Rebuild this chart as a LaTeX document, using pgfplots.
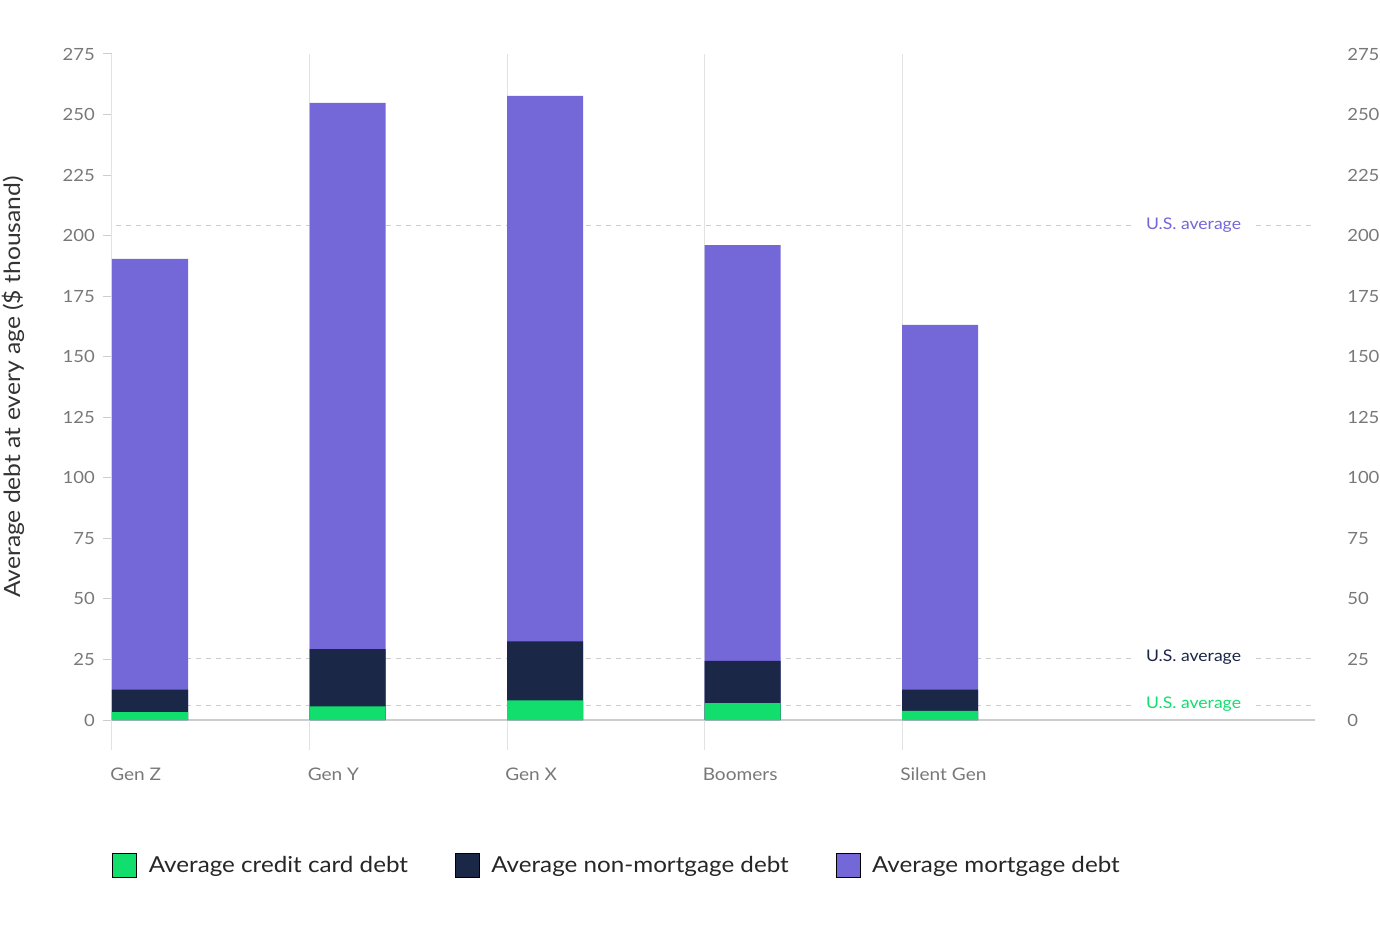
\documentclass[border=0pt]{standalone}
\usepackage{pgfplots}
\pgfplotsset{compat=1.18}
\usepackage{fontspec}
\setmainfont{Lato}[FakeStretch=1.1]
\definecolor{cpurple}{RGB}{116,103,216}
\definecolor{cnavy}{RGB}{27,39,71}
\definecolor{cgreen}{RGB}{18,222,110}
\definecolor{cgrid}{RGB}{226,226,226}
\definecolor{cdash}{RGB}{205,205,205}
\definecolor{ctick}{RGB}{120,120,120}
\begin{document}
\begin{tikzpicture}
\useasboundingbox (-84pt,-153pt) rectangle (951pt,540pt);
\begin{axis}[
  at={(0,0)}, anchor=south west,
  scale only axis, width=902.25pt, height=499.5pt,
  xmin=0, xmax=6.091, ymin=0, ymax=275,
  clip=false,
  /pgf/number format/assume math mode=true,
  axis x line*=bottom, axis y line*=left,
  x axis line style={draw=cdash, line width=1.1pt, -},
  y axis line style={draw=cgrid, line width=0.75pt, -},
  xtick={0,1,2,3,4},
  xticklabels={Gen Z, Gen Y, Gen X, Boomers, Silent Gen},
  xtick style={draw=none},
  xticklabel style={anchor=west, inner sep=0pt, yshift=-33.75pt, xshift=-1.5pt, font=\fontsize{13}{15}\selectfont, text=ctick},
  ytick={0,25,...,275},
  ytick style={draw=cdash, line width=0.75pt},
  tick align=outside,
  major tick length=6.75pt,
  yticklabel style={anchor=east, inner sep=0pt, xshift=-6pt, font=\fontsize{12.6}{15}\selectfont, text=ctick},
  ylabel={Average debt at every age (\$ thousand)},
  every axis y label/.style={at={(axis description cs:-0.0823,0.5)}, rotate=90, anchor=center, font=\fontsize{16.8}{19}\selectfont, text=black!80},
  legend columns=3,
  legend style={at={(axis cs:0,-60)}, anchor=west, draw=none, fill=none, inner sep=0pt,
    font=\fontsize{16.5}{19}\selectfont, text=black!85,
    nodes={inner sep=0pt},
    /tikz/every odd column/.append style={column sep=9pt},
    /tikz/every even column/.append style={column sep=35pt}},
  legend image code/.code={\fill[#1] (0pt,-9pt) rectangle (18pt,9pt);},
]
\addlegendimage{fill=cgreen}
\addlegendentry{Average credit card debt}
\addlegendimage{fill=cnavy}
\addlegendentry{Average non-mortgage debt}
\addlegendimage{fill=cpurple}
\addlegendentry{Average mortgage debt}

% vertical grid lines
\foreach \k in {1,2,3,4} {
  \edef\tmp{\noexpand\draw[cgrid, line width=0.75pt] (axis cs:\k,-12.4) -- (axis cs:\k,275);}
  \tmp
}
\draw[cgrid, line width=0.75pt] (axis cs:0,-12.4) -- (axis cs:0,0);
% U.S. average dashed lines
\draw[cdash, line width=0.75pt, dash pattern=on 3.75pt off 3.75pt] (axis cs:0.02,204) -- (axis cs:6.091,204);
\draw[cdash, line width=0.75pt, dash pattern=on 3.75pt off 3.75pt] (axis cs:0.02,25.3) -- (axis cs:6.091,25.3);
\draw[cdash, line width=0.75pt, dash pattern=on 3.75pt off 3.75pt] (axis cs:0.02,6.1) -- (axis cs:6.091,6.1);

\addplot[ybar, bar width=0.385, bar shift=0.1925, draw=none, fill=cpurple, forget plot]
  coordinates {(0,190.4) (1,254.8) (2,257.7) (3,196.1) (4,163.1)};
\addplot[ybar, bar width=0.385, bar shift=0.1925, draw=none, fill=cnavy, forget plot]
  coordinates {(0,12.5) (1,29.3) (2,32.5) (3,24.4) (4,12.5)};
\addplot[ybar, bar width=0.385, bar shift=0.1925, draw=none, fill=cgreen, forget plot]
  coordinates {(0,3.3) (1,5.6) (2,8.1) (3,7.0) (4,3.8)};

\node[fill=white, inner xsep=9pt, inner ysep=1pt, text=cpurple, font=\fontsize{12}{14}\selectfont] at (axis cs:5.476,204.5) {U.S. average};
\node[fill=white, inner xsep=9pt, inner ysep=1pt, text=cnavy, font=\fontsize{12}{14}\selectfont] at (axis cs:5.476,25.8) {U.S. average};
\node[fill=white, inner xsep=9pt, inner ysep=1pt, text=cgreen, font=\fontsize{12}{14}\selectfont] at (axis cs:5.476,6.6) {U.S. average};
\end{axis}
\begin{axis}[
  at={(0,0)}, anchor=south west,
  scale only axis, width=902.25pt, height=499.5pt,
  xmin=0, xmax=6.091, ymin=0, ymax=275,
  /pgf/number format/assume math mode=true,
  axis x line=none, axis y line*=right,
  y axis line style={draw=none},
  ytick={0,25,...,275},
  ytick style={draw=none},
  yticklabel style={anchor=west, inner sep=0pt, xshift=24pt, font=\fontsize{12.6}{15}\selectfont, text=ctick},
]
\addplot[draw=none, forget plot] coordinates {(0,0)};
\end{axis}
\end{tikzpicture}
\end{document}
